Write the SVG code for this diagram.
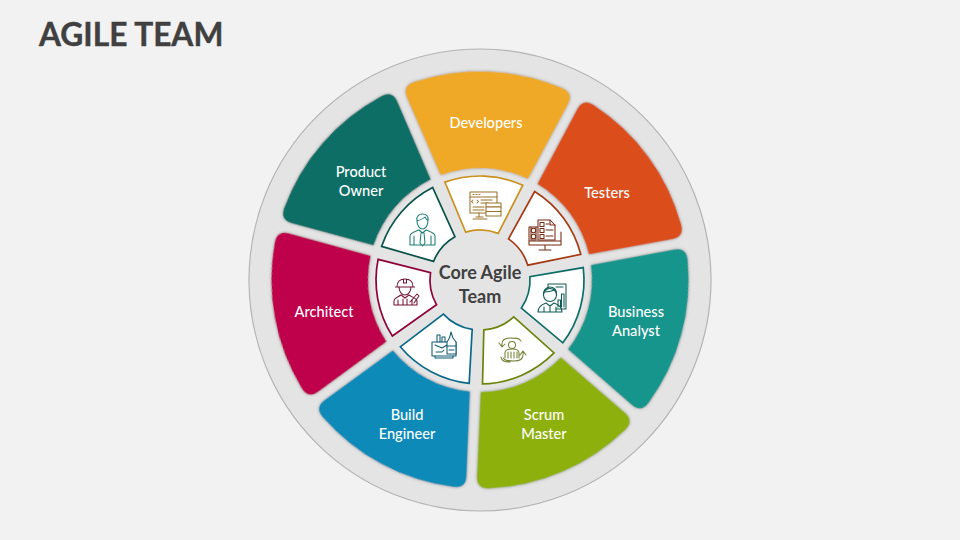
<svg xmlns="http://www.w3.org/2000/svg" width="960" height="540" viewBox="0 0 960 540">
<style>
text{font-family:"Lato","Open Sans",sans-serif}
.label{font-size:14.6px;font-weight:500;fill:#fff;text-anchor:middle}
.core{font-size:18px;font-weight:700;fill:#404040;text-anchor:middle}
.title{font-size:31.7px;font-weight:700;fill:#404040;stroke:#404040;stroke-width:.4}
.cell{fill:#fff;stroke-width:1.7;stroke-linejoin:miter}
.icon{fill:none;stroke-width:1.05;stroke-linejoin:round;stroke-linecap:round}
.wedge{filter:url(#soft)}
</style>
<defs>
<filter id="soft" x="-20%" y="-20%" width="140%" height="140%"><feDropShadow dx="0" dy="0" stdDeviation="1.6" flood-color="#666" flood-opacity=".7"/></filter>
<path id="wedge" d="M-43.6,-103.2L-80.5,-179.5Q-85.8,-190.5 -74,-195A208.500,208.500 0 0 1 74,-195Q85.800,-190.500 80.500,-179.500L43.6,-103.2A112,112 0 0 0 -43.6,-103.2Z"/>
<path id="cell" d="M-39,-96.4A104,104 0 0 1 39,-96.4L16.3,-47.3A50,50 0 0 0 -16.3,-47.3Z"/>
</defs>
<rect width="960" height="540" fill="#f2f2f2"/>
<text class="title" x="39" y="46">AGILE TEAM</text>
<circle id="base" cx="480" cy="280" r="231" fill="#e4e4e4" stroke="#b4b4b4" stroke-width="1.2"/>

<g id="node-developers">
<use href="#wedge" class="wedge" fill="#f0a928" transform="translate(480 280) rotate(2.4)"/>
<use href="#cell" class="cell" stroke="#c9911f" transform="translate(480 280) rotate(2.3)"/>
<g class="icon" stroke="#9a7228"><rect x="470" y="192" width="27" height="21"/><path d="M470 197H497M473 194.500h1M476 194.500h1M479 194.500h1M473 200l-1.500 1.500 1.500 1.500M477 200l1.500 1.500-1.500 1.500M481 200H492M481 203H488M473 207H484M473 210H484M479 213V217M473 219H487M476 217H483"/><rect x="486" y="203" width="15" height="4" fill="#fff"/><rect x="486" y="207" width="15" height="4.500" fill="#fff"/><rect x="486" y="211.500" width="15" height="4.500" fill="#fff"/></g>
<text class="label" x="486" y="128">Developers</text>
</g>

<g id="node-testers">
<use href="#wedge" class="wedge" fill="#dc4e1a" transform="translate(480 280) rotate(53.83)"/>
<use href="#cell" class="cell" stroke="#a63a14" transform="translate(480 280) rotate(53.73)"/>
<g class="icon" stroke="#742a14"><path d="M538 227H529V245H561V232M529 241H561M545 245V249M539 250H551"/><path d="M538 240V220H550L555 225V240Z" fill="#fff"/><path d="M550 220V225H555"/><rect x="540" y="222.500" width="4" height="4"/><rect x="540" y="228.500" width="4" height="4"/><rect x="540" y="234.500" width="4" height="4"/><path d="M546 224H549M546 230H553M546 236H553"/><circle cx="533.500" cy="230.500" r="2.300"/><circle cx="533.500" cy="236.500" r="2.300"/><path d="M531 227V240H536V227"/></g>
<text class="label" x="607" y="198">Testers</text>
</g>

<g id="node-business-analyst">
<use href="#wedge" class="wedge" fill="#13958c" transform="translate(480 280) rotate(105.26)"/>
<use href="#cell" class="cell" stroke="#0e6f69" transform="translate(480 280) rotate(105.16)"/>
<g class="icon" stroke="#0e5a56"><path d="M548 290V284H566V309H556"/><path d="M556 287H563M558 307V300H560.500V307M561.500 307V294H564V307"/><circle cx="550" cy="295" r="6.500" fill="#fff"/><path d="M543.500 295C543 289 548 287 550 287C553 287 557 289 556.500 295M544 292C548 292 552 291 555 290M538 312C538 306 543 304 546 303L550 306L554 303C557 304 562 306 562 312ZM550 306V312M544 307V312M556 307V312"/></g>
<text class="label"><tspan x="636" y="317">Business</tspan><tspan x="636" y="336">Analyst</tspan></text>
</g>

<g id="node-scrum-master">
<use href="#wedge" class="wedge" fill="#8db010" transform="translate(480 280) rotate(156.69)"/>
<use href="#cell" class="cell" stroke="#6a840c" transform="translate(480 280) rotate(156.59)"/>
<g class="icon" stroke="#737f32"><circle cx="512" cy="345" r="3.500"/><path d="M505 358V353C505 350 509 349 512 349C515 349 519 350 519 353V358M508 358V352M511 358V352M514 358V352M517 358V352M521 341C519 338 516 338 510 338C505 338 501 340 502 346M499 343L502 347L505 344M503 358C505 361 509 361 514 361C519 361 524 360 523 352M520 355L523 351L526 355M501 357C501 361 504 362 510 362"/></g>
<text class="label"><tspan x="544" y="420">Scrum</tspan><tspan x="544" y="439">Master</tspan></text>
</g>

<g id="node-build-engineer">
<use href="#wedge" class="wedge" fill="#0f8ab8" transform="translate(480 280) rotate(208.11)"/>
<use href="#cell" class="cell" stroke="#0b6a8a" transform="translate(480 280) rotate(208.01)"/>
<g class="icon" stroke="#0d5a70"><rect x="432" y="342" width="24" height="14"/><path d="M435 356V358H453V356M435 345L442 348L447 345L450 351M436 352H442L444 350M437 342V335H440V342M442 342V337H445V342"/><path d="M451 332L453 338L456 342V354H447V342L449.500 338Z" fill="#fff"/><path d="M447 346H456M449 350H454"/></g>
<text class="label"><tspan x="407" y="420">Build</tspan><tspan x="407" y="439">Engineer</tspan></text>
</g>

<g id="node-architect">
<use href="#wedge" class="wedge" fill="#bf004b" transform="translate(480 280) rotate(259.54)"/>
<use href="#cell" class="cell" stroke="#8f0038" transform="translate(480 280) rotate(259.44)"/>
<g class="icon" stroke="#741233"><path d="M397 287C397 281 401 279 405 279C409 279 413 281 413 287ZM395.500 287H414.500M403.500 279V283H406.500V279M399 287C399 292 402 295 405 295C408 295 411 292 411 287M394 305V301C394 298 398 297 401 295L405 298L409 295C412 297 416 298 417 301V305ZM398 300V305M412 300V305M403 299V305M407 299V305M410 302L417 294L419 296L414 303"/></g>
<text class="label" x="324" y="317">Architect</text>
</g>

<g id="node-product-owner">
<use href="#wedge" class="wedge" fill="#0e6e66" transform="translate(480 280) rotate(310.97)"/>
<use href="#cell" class="cell" stroke="#0a524c" transform="translate(480 280) rotate(310.87)"/>
<g class="icon" stroke="#1b7c74"><path d="M417 221C416 216 419 214 422.500 214C426 214 429 216 428 221C428 226 425 229 422.500 229C420 229 417 226 417 221ZM417 221C420 220 423 219 425 217C426 219 427 220 428 221M410 245V236C410 233 414 232 419 230L422.500 233L426 230C431 232 435 233 435 236V245ZM414 236V245M431 236V245M421 233L420 243L422.500 246L425 243L424 233"/></g>
<text class="label"><tspan x="361" y="177">Product</tspan><tspan x="361" y="196">Owner</tspan></text>
</g>

<g id="node-core">
<text class="core"><tspan x="480" y="279">Core Agile</tspan><tspan x="480" y="303">Team</tspan></text>
</g>
</svg>
